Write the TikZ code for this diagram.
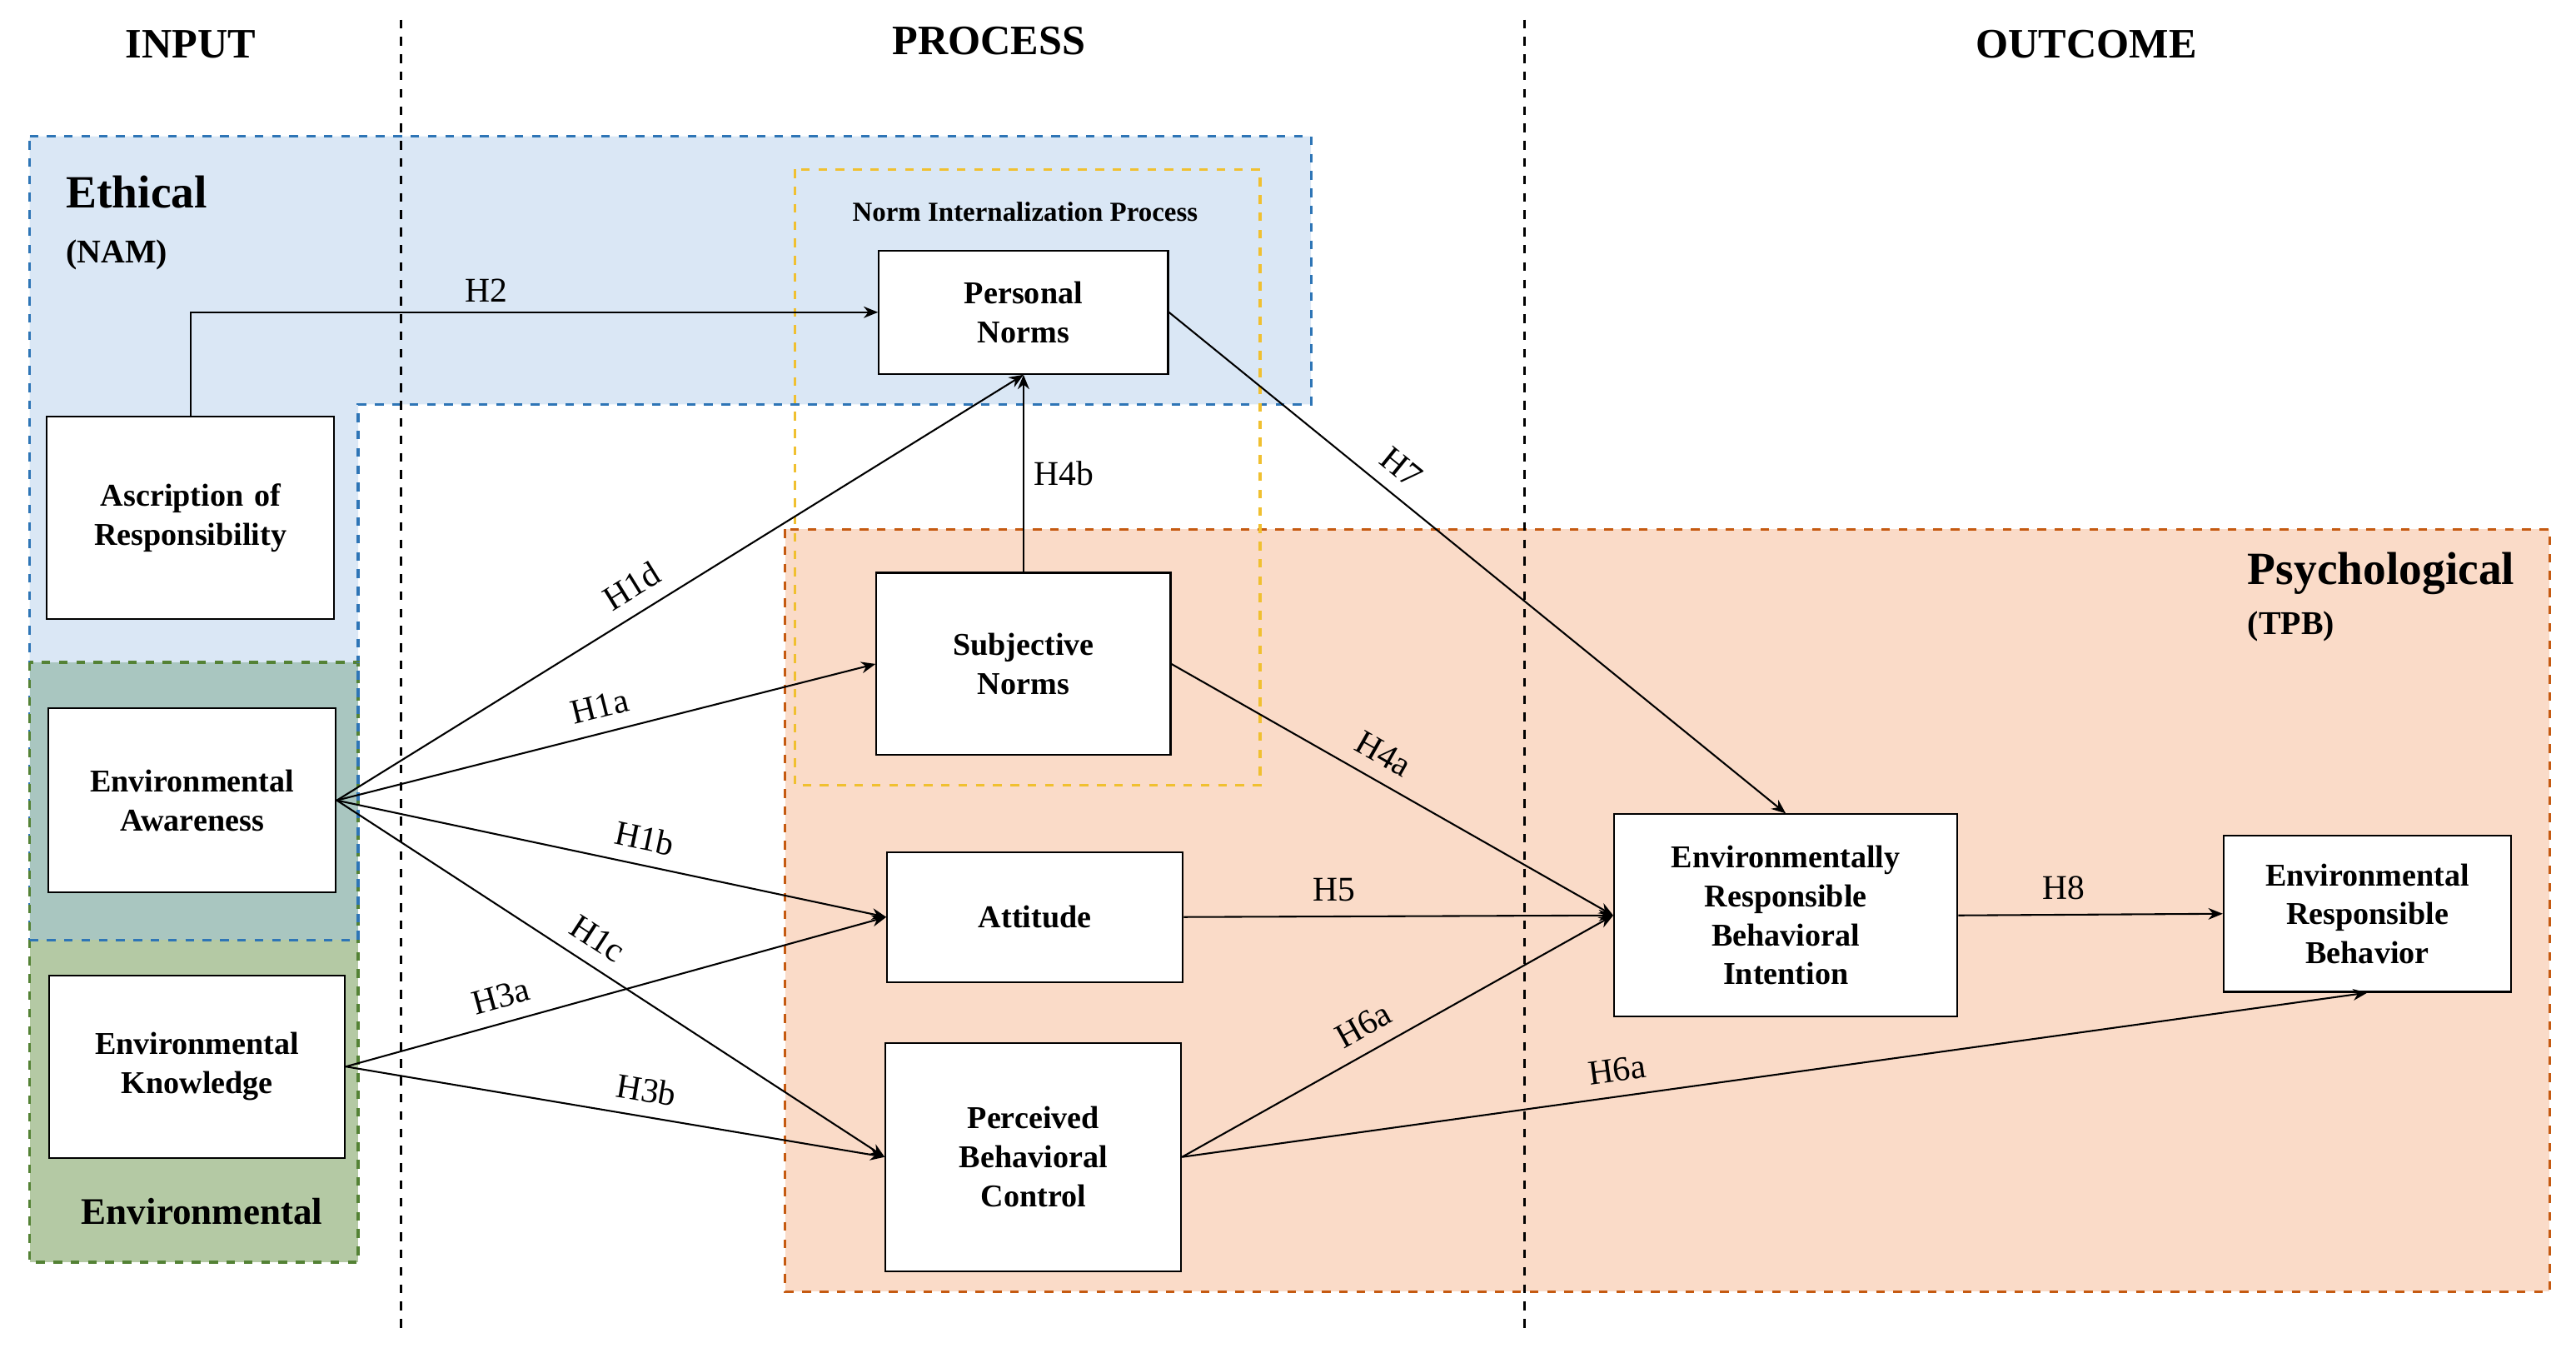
\documentclass[tikz,border=0pt]{standalone}
\usepackage{fontspec}
\setmainfont{Liberation Serif}
\usetikzlibrary{arrows.meta}
\definecolor{bluefill}{HTML}{DAE7F5}
\definecolor{blueline}{HTML}{2E75B6}
\definecolor{greenfill}{HTML}{B4C9A4}
\definecolor{tealfill}{HTML}{A9C6C0}
\definecolor{greenline}{HTML}{548235}
\definecolor{orfill}{HTML}{FADBC8}
\definecolor{orline}{HTML}{C55A11}
\definecolor{yline}{HTML}{F0C030}
\begin{document}
\begin{tikzpicture}[x=0.02cm,y=-0.02cm,
  box/.style={draw=black,fill=white,line width=0.6pt,align=center,font=\fontsize{11}{13.5}\selectfont\bfseries,inner sep=0pt},
  arr/.style={-{Stealth[length=5pt,width=4pt]},line width=0.6pt},
  lab/.style={font=\fontsize{12}{13}\selectfont,sloped,above=1.5pt},
  hdr/.style={font=\fontsize{14.5}{16}\selectfont\bfseries}]
\useasboundingbox (0,0) rectangle (1568,826);
% regions
\fill[orfill] (478,322) rectangle (1552,786);
\draw[orline,dashed,line width=0.9pt] (478,322) rectangle (1552,786);
\path[fill=bluefill,draw=blueline,dashed,line width=0.9pt] (18,83) -- (798,83) -- (798,246) -- (218,246) -- (218,572) -- (18,572) -- cycle;
\fill[greenfill] (18,572) rectangle (218,768);
\fill[tealfill] (18,403) rectangle (218,572);
\draw[greenline,dashed,line width=0.9pt] (18,403) rectangle (218,768);
\draw[blueline,dashed,line width=0.9pt] (18,572) -- (218,572) -- (218,403);
\draw[yline,dashed,line width=0.9pt] (484,103) rectangle (767,478);
\draw[dashed,line width=0.8pt] (244,12) -- (244,810);
\draw[dashed,line width=0.8pt] (928,12) -- (928,810);
% headers
\node[hdr] (hin) at (116,27) {INPUT};
\node[hdr] (hpr) at (602,25) {PROCESS};
\node[hdr] (hout) at (1270,27) {OUTCOME};
\node[font=\fontsize{16}{18}\selectfont\bfseries,anchor=west] (eth) at (34,117) {Ethical};
\node[font=\fontsize{11.5}{13}\selectfont\bfseries,anchor=west] (nam) at (34,155) {(NAM)};
\node[font=\fontsize{16}{18}\selectfont\bfseries,anchor=west] (psy) at (1362,349) {Psychological};
\node[font=\fontsize{11.5}{13}\selectfont\bfseries,anchor=west] (tpb) at (1362,381) {(TPB)};
\node[font=\fontsize{13}{15}\selectfont\bfseries] (env) at (123,737) {Environmental};
\node[font=\fontsize{9.5}{11}\selectfont\bfseries] (nip) at (624,129) {Norm Internalization Process};
% boxes
\node[box,text width=170*0.02cm,minimum width=175*0.02cm,minimum height=123*0.02cm] (ar) at (116,315) {Ascription of\\Responsibility};
\node[box,text width=170*0.02cm,minimum width=175*0.02cm,minimum height=112*0.02cm] (ea) at (117,487) {Environmental\\Awareness};
\node[box,text width=175*0.02cm,minimum width=180*0.02cm,minimum height=111*0.02cm] (ek) at (120,649) {Environmental\\Knowledge};
\node[box,text width=170*0.02cm,minimum width=176*0.02cm,minimum height=75*0.02cm] (pn) at (623,190) {Personal\\Norms};
\node[box,text width=170*0.02cm,minimum width=179*0.02cm,minimum height=111*0.02cm] (sn) at (623,404) {Subjective\\Norms};
\node[box,text width=170*0.02cm,minimum width=180*0.02cm,minimum height=79*0.02cm] (at) at (630,558) {Attitude};
\node[box,text width=170*0.02cm,minimum width=180*0.02cm,minimum height=139*0.02cm] (pbc) at (629,704) {Perceived\\Behavioral\\Control};
\node[box,text width=205*0.02cm,minimum width=209*0.02cm,minimum height=123*0.02cm] (erbi) at (1087,557) {Environmentally\\Responsible\\Behavioral\\Intention};
\node[box,text width=170*0.02cm,minimum width=175*0.02cm,minimum height=95*0.02cm] (erb) at (1441,556) {Environmental\\Responsible\\Behavior};
% connectors
\coordinate (c2) at (116,190);
\draw[arr] (ar.north) -- (c2) -- node[font=\fontsize{12}{13}\selectfont,above,pos=0.43] {H2} (pn.west);
\draw[arr] (ea.east) -- node[lab,pos=0.45] {H1d} (pn.south);
\draw[arr] (ea.east) -- node[lab,pos=0.5] {H1a} (sn.west);
\draw[arr] (ea.east) -- node[lab,pos=0.55] {H1b} (at.west);
\draw[arr] (ea.east) -- node[lab,pos=0.45] {H1c} (pbc.west);
\draw[arr] (ek.east) -- node[lab,pos=0.3] {H3a} (at.west);
\draw[arr] (ek.east) -- node[lab,pos=0.55] {H3b} (pbc.west);
\draw[arr] (sn.north) -- node[font=\fontsize{12}{13}\selectfont,right] {H4b} (pn.south);
\draw[arr] (pn.east) -- node[lab,pos=0.35] {H7} (erbi.north);
\draw[arr] (sn.east) -- node[lab,pos=0.45] {H4a} (erbi.west);
\draw[arr] (at.east) -- node[lab,pos=0.35] {H5} (erbi.west);
\draw[arr] (pbc.east) -- node[lab,pos=0.45] {H6a} (erbi.west);
\draw[arr] (pbc.east) -- node[lab,pos=0.37] {H6a} (erb.south);
\draw[arr] (erbi.east) -- node[lab,pos=0.4] {H8} (erb.west);
\end{tikzpicture}
\end{document}
